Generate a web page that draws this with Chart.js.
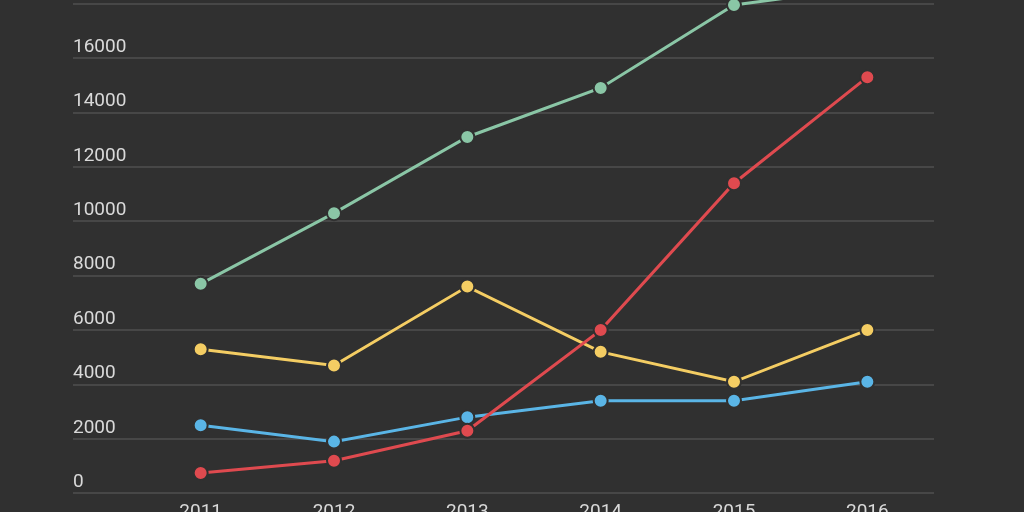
<!DOCTYPE html>
<html>
<head>
<meta charset="utf-8">
<script src="https://cdn.jsdelivr.net/npm/chart.js@4/dist/chart.umd.min.js"></script>
<style>
  html, body { margin: 0; padding: 0; width: 1024px; height: 512px; overflow: hidden; background: #303030; }
  #wrap { position: absolute; left: 0; top: -80px; width: 1024px; height: 640px; }
</style>
</head>
<body>
<div id="wrap"><canvas id="c"></canvas></div>
<script>
const years = ['2011', '2012', '2013', '2014', '2015', '2016'];
const seriesGreen  = [7700, 10300, 13100, 14900, 17950, 18600];
const seriesRed    = [750, 1200, 2300, 6000, 11400, 15300];
const seriesYellow = [5300, 4700, 7600, 5200, 4100, 6000];
const seriesBlue   = [2500, 1900, 2800, 3400, 3400, 4100];
const yMin = 0, yMax = 20000, yStep = 2000;

const BG = '#303030';
function ds(data, color) {
  return {
    data: data,
    borderColor: color,
    backgroundColor: color,
    borderWidth: 3,
    pointRadius: 7,
    pointBorderWidth: 2,
    pointBorderColor: BG,
    pointBackgroundColor: color,
    fill: false,
    tension: 0
  };
}

new Chart(document.getElementById('c'), {
  type: 'line',
  data: {
    labels: years,
    datasets: [
      ds(seriesGreen, '#8ac6a6'),
      ds(seriesRed, '#df4a4f'),
      ds(seriesYellow, '#f4cd63'),
      ds(seriesBlue, '#5ab5e6')
    ]
  },
  options: {
    responsive: true,
    maintainAspectRatio: false,
    animation: false,
    events: [],
    layout: { padding: { left: 73, right: 90, top: 29.3, bottom: 0 } },
    plugins: { legend: { display: false }, tooltip: { enabled: false } },
    scales: {
      x: {
        offset: true,
        grid: { display: false },
        border: { display: false },
        ticks: { color: '#d9d9d9', font: { family: 'Roboto', size: 19 }, padding: 0 },
        afterFit: s => { s.height = 66.7; }
      },
      y: {
        min: yMin, max: yMax,
        grid: { color: '#474747', lineWidth: 2, tickLength: 61, drawTicks: true },
        border: { display: false },
        ticks: {
          stepSize: yStep,
          color: '#d9d9d9',
          font: { family: 'Roboto', size: 19 },
          crossAlign: 'far',
          padding: 0,
          labelOffset: -11,
          callback: v => String(v)
        },
        afterFit: s => { s.width = 61; }
      }
    }
  }
});
</script>
</body>
</html>
